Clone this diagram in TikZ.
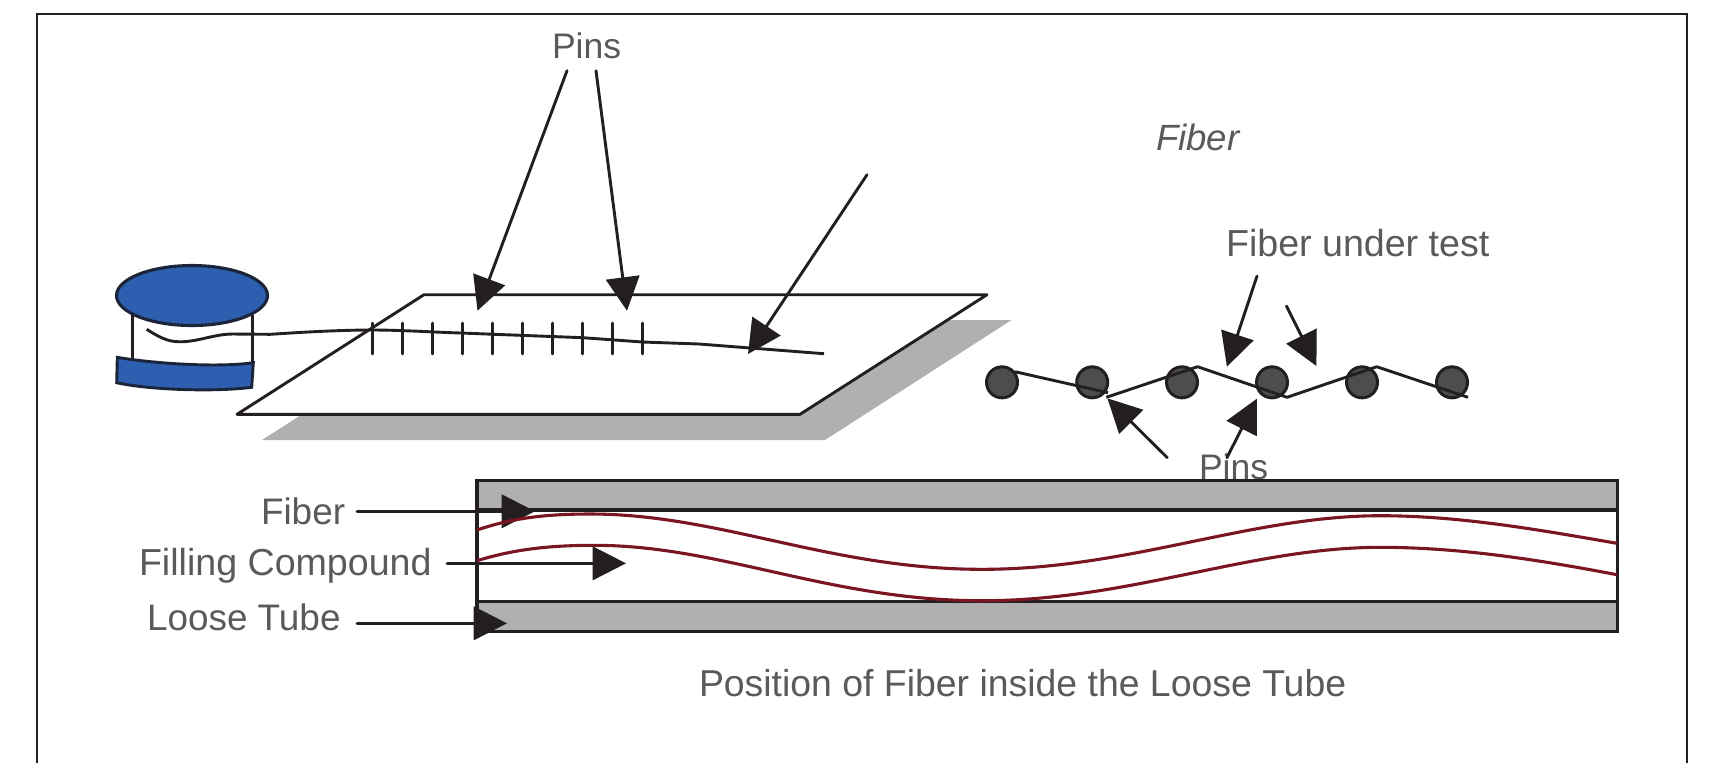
\documentclass[tikz,border=0pt]{standalone}
\usepackage{fontspec}
\setmainfont{Liberation Sans}
\usetikzlibrary{arrows.meta,shapes.geometric}
\definecolor{ink}{HTML}{231F20}
\definecolor{txt}{HTML}{5A5A5A}
\definecolor{greyfill}{HTML}{B0B0B0}
\definecolor{spoolblue}{HTML}{2C5FB0}
\definecolor{navy}{HTML}{1B2438}
\definecolor{pinfill}{HTML}{4D4D4D}
\definecolor{fibred}{HTML}{7A1522}
\tikzset{
  x=0.1mm,y=-0.1mm,
  lbl/.style={anchor=base west,inner sep=0pt,outer sep=0pt,text=txt,font=\fontsize{10.6pt}{12pt}\selectfont},
  call/.style={draw=ink,line width=.29mm,-{Triangle[length=3.35mm,width=3.35mm]},line cap=round},
  thin line/.style={draw=ink,line width=.29mm,line join=round},
  fib/.style={draw=fibred,line width=.31mm},
  pin/.style={circle,draw=ink,line width=.3mm,fill=pinfill,minimum size=3.1mm,inner sep=0pt}
}
\begin{document}
\begin{tikzpicture}
\useasboundingbox (0,0) rectangle (1711,763);
\fill[white] (0,0) rectangle (1711,763);
% frame
\draw[ink,line width=.24mm] (37,763) -- (37,14) -- (1687,14) -- (1687,763);
% plate
\fill[greyfill] (262,440) -- (449,320) -- (1011.5,320) -- (825,440) -- cycle;
\draw[thin line,fill=white] (237,414.3) -- (424,294.7) -- (987,294.7) -- (800,414.3) -- cycle;
% spool
\draw[ink,line width=.28mm] (132.3,315) -- (132.3,362) (252.3,315) -- (252.3,364);
\draw[navy,line width=.29mm,fill=spoolblue] (117.3,357.3) .. controls (150,363) and (215,368) .. (253.3,362.7) -- (251.7,387.3) .. controls (215,392) and (150,390) .. (116.7,382.7) -- cycle;
\node[ellipse,draw=navy,line width=.31mm,fill=spoolblue,minimum width=15.1mm,minimum height=6mm,inner sep=0pt] (spooltop) at (192,295.5) {};
% fibre on plate
\draw[thin line] (146.7,329.3) .. controls (165,341) and (172,342) .. (183,341.7) .. controls (200,341) and (215,334) .. (233,334) -- (270,334.3) .. controls (305,332) and (340,330) .. (373,330) .. controls (400,330) and (430,332) .. (461,333) -- (583,337.7) -- (642.5,342) -- (699,344) -- (824,353.7);
\foreach \i in {0,...,9} \draw[ink,line width=.28mm,line cap=round] (372.3+\i*30.02,323) -- (372.3+\i*30.02,354);
% pins row
\foreach \n/\x in {a/1002,b/1092.2,c/1182,d/1272,e/1362,f/1452} \node[pin] (p\n) at (\x,382.3) {};
\coordinate (z0) at (1015,371.7);
\coordinate (z1) at (1108,392.7);
\coordinate (z2) at (1106.3,397.3);
\coordinate (z3) at (1197.6,366.7);
\coordinate (z4) at (1287,397.3);
\coordinate (z5) at (1376.7,366.7);
\coordinate (z6) at (1468,397.3);
\draw[thin line] (z0) -- (z1);
\draw[thin line] (z2) -- (z3) -- (z4) -- (z5) -- (z6);
% texts
\node[lbl,font=\fontsize{10.1pt}{12pt}\selectfont] (pinsA) at (552,58.3) {Pins};
\node[lbl,font=\fontsize{10.4pt}{12pt}\selectfont\itshape] (fiberI) at (1156,150) {Fiber};
\node[lbl,font=\fontsize{10.7pt}{12pt}\selectfont] (fut) at (1226,256.7) {Fiber under test};
\node[lbl,font=\fontsize{10.1pt}{12pt}\selectfont] (pinsB) at (1199,479) {Pins};
\node[lbl,font=\fontsize{10.5pt}{12pt}\selectfont] (lf) at (261,524.3) {Fiber};
\node[lbl,font=\fontsize{10.7pt}{12pt}\selectfont] (lc) at (139,575.5) {Filling Compound};
\node[lbl,font=\fontsize{10.5pt}{12pt}\selectfont] (ll) at (147,630.7) {Loose Tube};
\node[lbl,font=\fontsize{10.64pt}{12pt}\selectfont] (cap) at (699,696.7) {Position of Fiber inside the Loose Tube};
% tube
\draw[ink,line width=.32mm,fill=white] (477,510) rectangle (1617.5,601.3);
\draw[ink,line width=.32mm,fill=greyfill] (477,480.7) rectangle (1617.5,510);
\draw[ink,line width=.32mm,fill=greyfill] (477,601.3) rectangle (1617.5,631.3);
% connector ends
\coordinate (a1s) at (567,70.7);   \coordinate (a1e) at (477.5,310.7);
\coordinate (a2s) at (596,70.7);   \coordinate (a2e) at (627,310.7);
\coordinate (a3s) at (867,174.7);  \coordinate (a3e) at (748,354);
\coordinate (b1s) at (1257,276);   \coordinate (b1e) at (1226.9,366.7);
\coordinate (b2s) at (1286.4,306); \coordinate (b2e) at (1316.4,366);
\coordinate (b3s) at (1167.3,457.7); \coordinate (b3e) at (1107.4,398.3);
\coordinate (b4s) at (1226.9,457.7); \coordinate (b4e) at (1256.8,398.7);
\coordinate (c1s) at (357,511.3);  \coordinate (c1e) at (535,511.3);
\coordinate (c2s) at (447,563.3);  \coordinate (c2e) at (626,563.3);
\coordinate (c3s) at (357,623.3);  \coordinate (c3e) at (507,623.3);
\foreach \n in {a1,a2,a3,b1,b2,b3,b4,c1,c2,c3} \draw[call] (\n s) -- (\n e);
% fibres in tube
\draw[fib] (477,530) .. controls (515,517) and (550,514) .. (590.5,514) .. controls (720,514) and (830,569.3) .. (982,569.3) .. controls (1130,569.3) and (1250,515.7) .. (1380.6,515.7) .. controls (1460,515.7) and (1540,530) .. (1617,543.3);
\draw[fib] (477,560.7) .. controls (515,549) and (550,545.3) .. (595,545.3) .. controls (720,545.3) and (830,600.7) .. (982,600.7) .. controls (1130,600.7) and (1250,547.3) .. (1380.6,547.3) .. controls (1460,547.3) and (1540,560) .. (1617,574.7);
\end{tikzpicture}
\end{document}
